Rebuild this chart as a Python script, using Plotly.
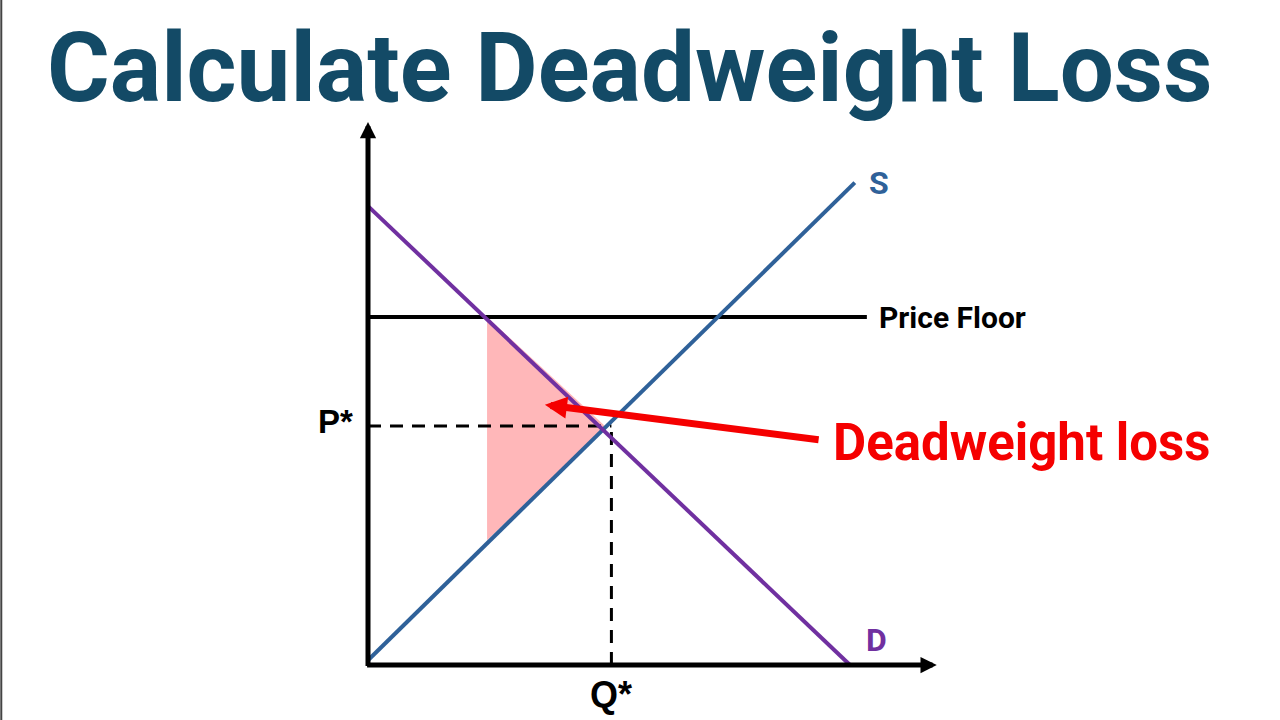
import plotly.graph_objects as go

# ---- data (Q = quantity, P = price) ----
demand_q = [0.0, 10.0]
demand_p = [9.56, 0.0]
supply_q = [0.0, 10.1]
supply_p = [0.1, 10.05]
floor_q = [0.0, 10.35]
floor_p = [7.25, 7.25]
q_star = 5.05
p_star = 4.98
dwl_q = [2.47, 2.47, 4.95, 2.47]
dwl_p = [7.25, 2.6, 4.95, 7.25]
axis_q_max = 11.8
axis_p_max = 11.31

TITLE_COLOR = "#134A66"
DEMAND_COLOR = "#7030A0"
SUPPLY_COLOR = "#2F6199"
RED = "#F50000"
FONT = "Roboto"

fig = go.Figure()

fig.add_trace(go.Scatter(x=dwl_q, y=dwl_p, mode="lines", fill="toself",
                         fillcolor="#FFB7B9", line=dict(width=0), hoverinfo="skip"))
fig.add_trace(go.Scatter(x=[0, q_star], y=[p_star, p_star], mode="lines",
                         line=dict(color="black", width=3, dash="13px,9px"), hoverinfo="skip"))
fig.add_trace(go.Scatter(x=[q_star, q_star], y=[0, p_star], mode="lines",
                         line=dict(color="black", width=3, dash="13px,9px"), hoverinfo="skip"))
fig.add_trace(go.Scatter(x=floor_q, y=floor_p, mode="lines",
                         line=dict(color="black", width=4), hoverinfo="skip"))
fig.add_trace(go.Scatter(x=supply_q, y=supply_p, mode="lines",
                         line=dict(color=SUPPLY_COLOR, width=4), hoverinfo="skip"))
fig.add_trace(go.Scatter(x=demand_q, y=demand_p, mode="lines",
                         line=dict(color=DEMAND_COLOR, width=4), hoverinfo="skip"))

annotations = [
    # axes with arrowheads
    dict(x=axis_q_max, y=0, ax=-0.05, ay=0, xref="x", yref="y", axref="x", ayref="y",
         text="", showarrow=True, arrowhead=2, arrowsize=0.65, arrowwidth=5,
         arrowcolor="black", standoff=0, startstandoff=0),
    dict(x=0, y=axis_p_max, ax=0, ay=-0.05, xref="x", yref="y", axref="x", ayref="y",
         text="", showarrow=True, arrowhead=2, arrowsize=0.65, arrowwidth=5,
         arrowcolor="black", standoff=0, startstandoff=0),
    # red pointer arrow
    dict(x=3.67, y=5.42, ax=9.38, ay=4.69, xref="x", yref="y", axref="x", ayref="y",
         text="", showarrow=True, arrowhead=2, arrowsize=0.63, arrowwidth=7,
         arrowcolor=RED, standoff=0, startstandoff=0),
    # labels
    dict(x=0.492, y=0.905, xref="paper", yref="paper", text="<b>Calculate Deadweight Loss</b>",
         showarrow=False, font=dict(family=FONT, size=96, color=TITLE_COLOR),
         xanchor="center", yanchor="middle"),
    dict(x=10.6, y=10.05, xref="x", yref="y", text="<b>S</b>", showarrow=False,
         font=dict(family=FONT, size=32, color=SUPPLY_COLOR), xanchor="center", yanchor="middle"),
    dict(x=10.55, y=0.52, xref="x", yref="y", text="<b>D</b>", showarrow=False,
         font=dict(family=FONT, size=32, color=DEMAND_COLOR), xanchor="center", yanchor="middle"),
    dict(x=10.55, y=7.25, xref="x", yref="y", text="<b>Price Floor</b>", showarrow=False,
         font=dict(family=FONT, size=30, color="black"), xanchor="left", yanchor="middle"),
    dict(x=-0.27, y=5.08, xref="x", yref="y", text="<b>P*</b>", showarrow=False,
         font=dict(family="Liberation Sans", size=33, color="black"), xanchor="right", yanchor="middle"),
    dict(x=q_star, y=-0.62, xref="x", yref="y", text="<b>Q*</b>", showarrow=False,
         font=dict(family="Liberation Sans", size=36, color="black"), xanchor="center", yanchor="middle"),
    dict(x=9.6, y=4.64, xref="x", yref="y", text="<b>Deadweight loss</b>", showarrow=False,
         font=dict(family=FONT, size=51, color=RED), xanchor="left", yanchor="middle"),
]

fig.update_layout(
    width=1280, height=720,
    margin=dict(l=0, r=0, t=0, b=0),
    paper_bgcolor="white", plot_bgcolor="white",
    showlegend=False,
    xaxis=dict(range=[-368 / 48.2, (1280 - 368) / 48.2], visible=False, fixedrange=True),
    yaxis=dict(range=[-55 / 48.0, 665 / 48.0], visible=False, fixedrange=True),
    annotations=annotations,
    shapes=[dict(type="line", xref="paper", yref="paper", x0=0.001, x1=0.001, y0=0, y1=1,
                 line=dict(color="#444444", width=2))],
)

fig.write_html("out.html", config={"displayModeBar": False},
               post_script="document.body.style.margin='0';document.body.style.overflow='hidden';")
